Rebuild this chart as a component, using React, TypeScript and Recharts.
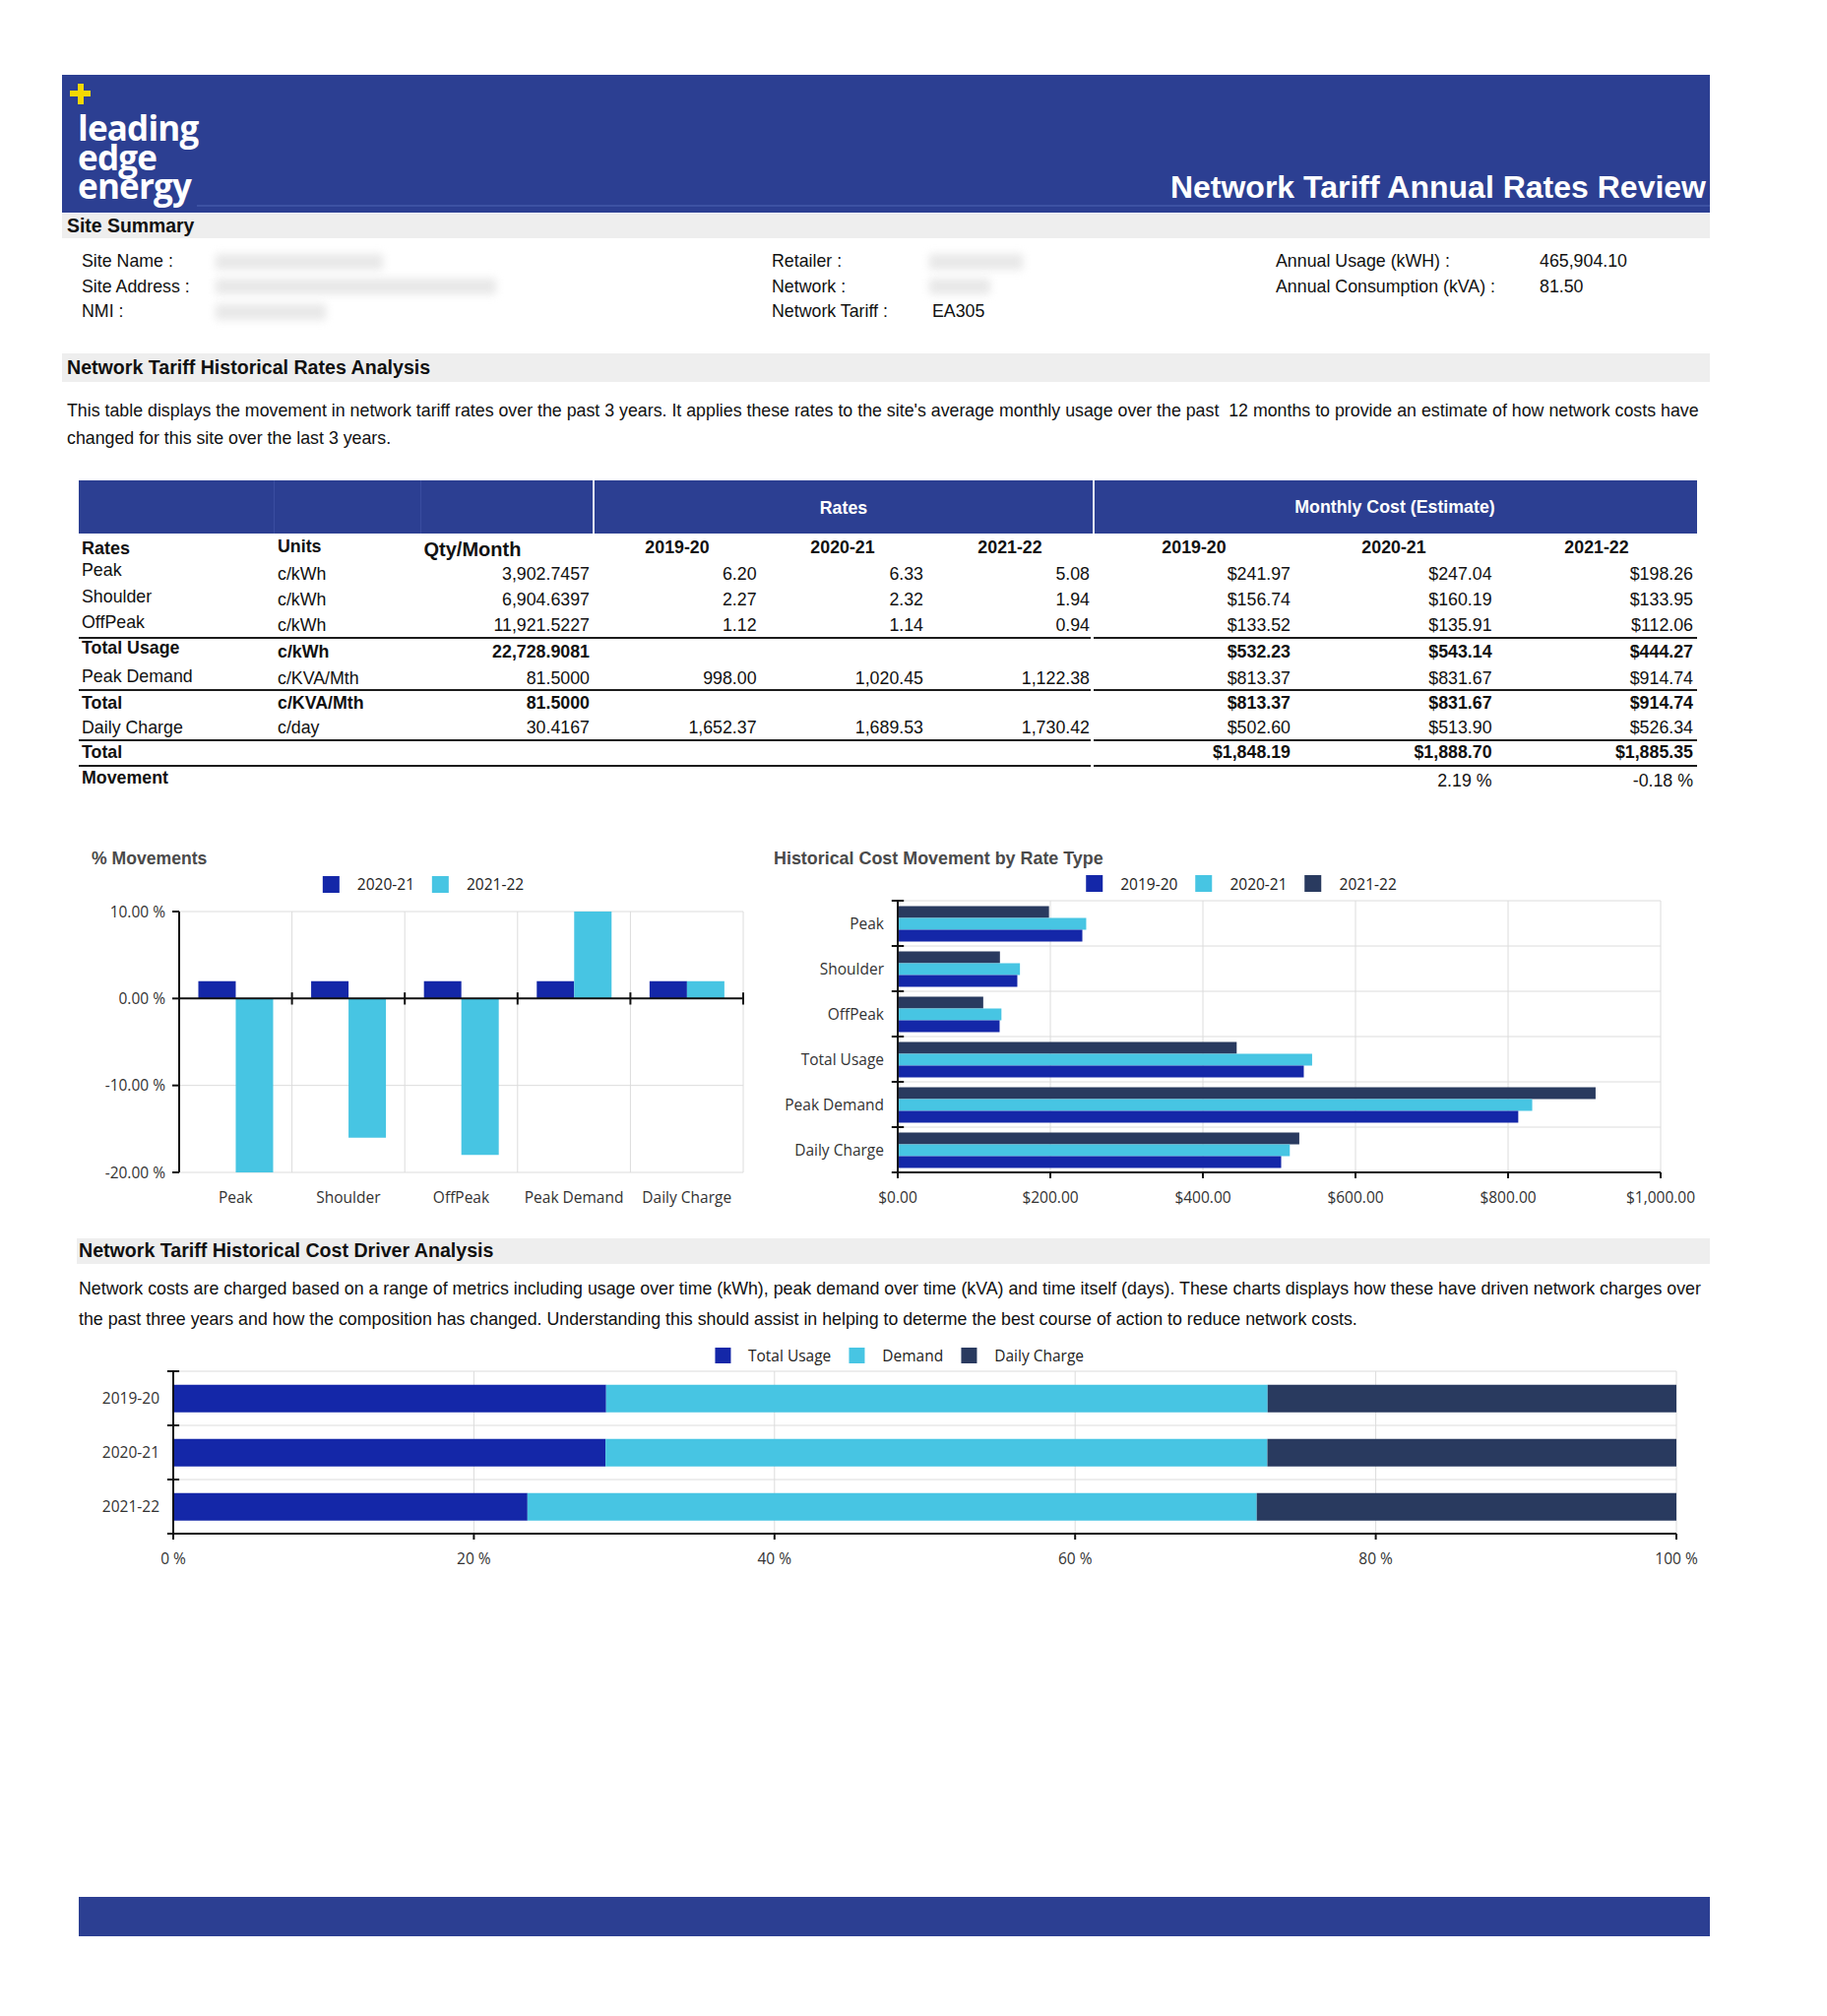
import React from 'react';
import { BarChart, Bar, XAxis, YAxis, CartesianGrid, ReferenceLine } from 'recharts';

const ARIAL = '"Liberation Sans", Arial, sans-serif';
const CF = '"Open Sans", sans-serif';
const HEAD_BLUE = '#2C3F92';
const C_BLUE = '#1427A8';
const C_CYAN = '#47C5E3';
const C_NAVY = '#293A5F';
const GRID = '#dcdcdc';
const AXIS = '#111';

// ---- % Movements ----
const movementCategories = ['Peak', 'Shoulder', 'OffPeak', 'Peak Demand', 'Daily Charge'];
const movement2021 = [2, 2, 2, 2, 2];
const movement2122 = [-20, -16, -18, 10, 2];
const movementTicks = [-20, -10, 0, 10];

// ---- Historical Cost Movement by Rate Type ----
const costCategories = ['Peak', 'Shoulder', 'OffPeak', 'Total Usage', 'Peak Demand', 'Daily Charge'];
const cost1920 = [241.97, 156.74, 133.52, 532.23, 813.37, 502.6];
const cost2021 = [247.04, 160.19, 135.91, 543.14, 831.67, 513.9];
const cost2122 = [198.26, 133.95, 112.06, 444.27, 914.74, 526.34];
const costTicks = [0, 200, 400, 600, 800, 1000];

// ---- Cost driver composition ----
const driverYears = ['2019-20', '2020-21', '2021-22'];
const driverUsage = [532.23, 543.14, 444.27];
const driverDemand = [813.37, 831.67, 914.74];
const driverDaily = [502.6, 513.9, 526.34];
const driverTicks = [0, 0.2, 0.4, 0.6, 0.8, 1];

// ---- Table ----
const rateYears = ['2019-20', '2020-21', '2021-22'];
const tableLabels = ['Peak', 'Shoulder', 'OffPeak', 'Total Usage', 'Peak Demand', 'Total', 'Daily Charge', 'Total', 'Movement'];
const tableUnits = ['c/kWh', 'c/kWh', 'c/kWh', 'c/kWh', 'c/KVA/Mth', 'c/KVA/Mth', 'c/day', '', ''];
const tableQty = ['3,902.7457', '6,904.6397', '11,921.5227', '22,728.9081', '81.5000', '81.5000', '30.4167', '', ''];
const tableRates = [
  ['6.20', '6.33', '5.08'],
  ['2.27', '2.32', '1.94'],
  ['1.12', '1.14', '0.94'],
  ['', '', ''],
  ['998.00', '1,020.45', '1,122.38'],
  ['', '', ''],
  ['1,652.37', '1,689.53', '1,730.42'],
  ['', '', ''],
  ['', '', ''],
];
const tableCosts = [
  ['$241.97', '$247.04', '$198.26'],
  ['$156.74', '$160.19', '$133.95'],
  ['$133.52', '$135.91', '$112.06'],
  ['$532.23', '$543.14', '$444.27'],
  ['$813.37', '$831.67', '$914.74'],
  ['$813.37', '$831.67', '$914.74'],
  ['$502.60', '$513.90', '$526.34'],
  ['$1,848.19', '$1,888.70', '$1,885.35'],
  ['', '2.19 %', '-0.18 %'],
];
const tableBold = [false, false, false, true, false, true, false, true, false];
const labelY = [580, 606.7, 632.3, 658.3, 687.3, 714.3, 739.3, 765, 791];
const valueY = [583.3, 609.3, 635.7, 662.7, 689.3, 714.3, 739.3, 765, 793.3];
const ruleY = [648.3, 701, 752.3, 777.7];

const movementData = movementCategories.map((name, i) => ({ name, v2021: movement2021[i], v2122: movement2122[i] }));
const costData = costCategories.map((name, i) => ({ name, c1920: cost1920[i], c2021: cost2021[i], c2122: cost2122[i] }));
const driverData = driverYears.map((name, i) => ({ name, usage: driverUsage[i], demand: driverDemand[i], daily: driverDaily[i] }));

const BODY = 17.8;

type TP = {
  x: number; y: number; children: React.ReactNode; align?: 'left' | 'right' | 'center';
  size?: number; bold?: boolean; color?: string; family?: string; w?: number;
};
const T = ({ x, y, children, align = 'left', size = BODY, bold = false, color = '#111', family = ARIAL, w = 700 }: TP) => {
  const left = align === 'left' ? x : align === 'right' ? x - w : x - w / 2;
  return (
    <div
      style={{
        position: 'absolute', left, top: y - size * 0.6, width: w, height: size * 1.2,
        lineHeight: `${size * 1.2}px`, fontSize: size, fontWeight: bold ? 700 : 400, color,
        fontFamily: family, textAlign: align, whiteSpace: 'pre',
      }}
    >
      {children}
    </div>
  );
};

const Box = ({ x, y, w, h, bg }: { x: number; y: number; w: number; h: number; bg: string }) => (
  <div style={{ position: 'absolute', left: x, top: y, width: w, height: h, background: bg }} />
);

const Blur = ({ x, y, w }: { x: number; y: number; w: number }) => (
  <div style={{ position: 'absolute', left: x, top: y - 8, width: w, height: 16, background: '#dedede', filter: 'blur(4px)', opacity: 0.7 }} />
);

const Legend = ({ cx, y, items, sq = 17 }: { cx: number; y: number; items: { label: string; color: string }[]; sq?: number }) => (
  <div
    style={{
      position: 'absolute', left: cx, top: y - 12, height: 24, transform: 'translateX(-50%)', display: 'flex',
      alignItems: 'center', fontFamily: CF, fontSize: 15.5, color: '#222', whiteSpace: 'nowrap',
    }}
  >
    {items.map((it, i) => (
      <div key={it.label} style={{ display: 'flex', alignItems: 'center', marginRight: i < items.length - 1 ? 18 : 0 }}>
        <div style={{ width: sq, height: sq, background: it.color, marginRight: 18 }} />
        <span>{it.label}</span>
      </div>
    ))}
  </div>
);

const tickStyle = { fill: '#333', fontSize: 15.5, fontFamily: CF };
const pct = (v: number) => `${v.toFixed(2)} %`;
const money = (v: number) => '$' + v.toLocaleString('en-US', { minimumFractionDigits: 2, maximumFractionDigits: 2 });
const share = (v: number) => `${Math.round(v * 100)} %`;

// category boundaries: start of every band, plus end of the last band
const boundaries = (cats: string[]) => [
  ...cats.map((c) => ({ c, pos: 'start' as const })),
  { c: cats[cats.length - 1], pos: 'end' as const },
];

const MovementChart = () => (
  <div style={{ position: 'absolute', left: 80, top: 915 }}>
    <BarChart width={700} height={320} data={movementData} margin={{ top: 11, right: 25, left: 12, bottom: 14 }} barCategoryGap="17%" barGap={0}>
      <CartesianGrid stroke={GRID} vertical={false} />
      <XAxis dataKey="name" axisLine={false} tickLine={false} tickMargin={14} height={30} tick={tickStyle} interval={0} />
      <YAxis
        domain={[-20, 10]} ticks={movementTicks} tickFormatter={pct} width={90} allowDataOverflow
        axisLine={{ stroke: AXIS, strokeWidth: 2 }} tickLine={{ stroke: AXIS, strokeWidth: 2 }} tickSize={7} tickMargin={7} tick={tickStyle}
      />
      {boundaries(movementCategories).slice(1).map((b) => (
        <ReferenceLine key={'g' + b.c + b.pos} x={b.c} position={b.pos} stroke={GRID} strokeWidth={1} />
      ))}
      <Bar dataKey="v2021" fill={C_BLUE} isAnimationActive={false} />
      <Bar dataKey="v2122" fill={C_CYAN} isAnimationActive={false} />
      <ReferenceLine y={0} stroke={AXIS} strokeWidth={2} />
      {boundaries(movementCategories).slice(1).map((b) => (
        <ReferenceLine
          key={'t' + b.c + b.pos} position={b.pos} segment={[{ x: b.c, y: -0.7 }, { x: b.c, y: 0.7 }]}
          stroke={AXIS} strokeWidth={2} ifOverflow="visible"
        />
      ))}
    </BarChart>
  </div>
);

const CostChart = () => (
  <div style={{ position: 'absolute', left: 780, top: 905 }}>
    <BarChart layout="vertical" width={960} height={330} data={costData} margin={{ top: 10, right: 53, left: 22, bottom: 14 }} barCategoryGap="12%" barGap={0}>
      <CartesianGrid stroke={GRID} horizontal={false} />
      <XAxis
        type="number" domain={[0, 1000]} ticks={costTicks} tickFormatter={money} height={30}
        axisLine={{ stroke: AXIS, strokeWidth: 2 }} tickLine={{ stroke: AXIS, strokeWidth: 2 }} tickSize={6} tickMargin={14} tick={tickStyle}
      />
      <YAxis type="category" dataKey="name" width={110} axisLine={{ stroke: AXIS, strokeWidth: 2 }} tickLine={false} tickMargin={8} tick={tickStyle} interval={0} />
      {boundaries(costCategories).map((b) => (
        <ReferenceLine key={'g' + b.c + b.pos} y={b.c} position={b.pos} stroke={GRID} strokeWidth={1} />
      ))}
      <Bar dataKey="c2122" fill={C_NAVY} isAnimationActive={false} />
      <Bar dataKey="c2021" fill={C_CYAN} isAnimationActive={false} />
      <Bar dataKey="c1920" fill={C_BLUE} isAnimationActive={false} />
      {boundaries(costCategories).map((b) => (
        <ReferenceLine
          key={'t' + b.c + b.pos} position={b.pos} segment={[{ x: -8, y: b.c }, { x: 8, y: b.c }]}
          stroke={AXIS} strokeWidth={2} ifOverflow="visible"
        />
      ))}
    </BarChart>
  </div>
);

const DriverChart = () => (
  <div style={{ position: 'absolute', left: 60, top: 1385 }}>
    <BarChart layout="vertical" width={1700} height={215} data={driverData} stackOffset="expand" margin={{ top: 8, right: 57, left: 16, bottom: 12 }} barCategoryGap="25%">
      <CartesianGrid stroke={GRID} horizontal={false} />
      <XAxis
        type="number" domain={[0, 1]} ticks={driverTicks} tickFormatter={share} height={30}
        axisLine={{ stroke: AXIS, strokeWidth: 2 }} tickLine={{ stroke: AXIS, strokeWidth: 2 }} tickSize={6} tickMargin={14} tick={tickStyle}
      />
      <YAxis type="category" dataKey="name" width={100} axisLine={{ stroke: AXIS, strokeWidth: 2 }} tickLine={false} tickMargin={8} tick={tickStyle} interval={0} />
      {boundaries(driverYears).map((b) => (
        <ReferenceLine key={'g' + b.c + b.pos} y={b.c} position={b.pos} stroke={GRID} strokeWidth={1} />
      ))}
      <Bar dataKey="usage" stackId="a" fill={C_BLUE} isAnimationActive={false} />
      <Bar dataKey="demand" stackId="a" fill={C_CYAN} isAnimationActive={false} />
      <Bar dataKey="daily" stackId="a" fill={C_NAVY} isAnimationActive={false} />
      {boundaries(driverYears).map((b) => (
        <ReferenceLine
          key={'t' + b.c + b.pos} position={b.pos} segment={[{ x: -0.004, y: b.c }, { x: 0.004, y: b.c }]}
          stroke={AXIS} strokeWidth={2} ifOverflow="visible"
        />
      ))}
    </BarChart>
  </div>
);

const rateRight = [768.6, 938, 1107];
const costRight = [1311, 1515.6, 1720];
const yearCenters = [688, 856, 1026, 1213, 1416, 1622];

export default function App() {
  return (
    <div style={{ position: 'absolute', left: 0, top: 0, width: 1856, height: 2048, background: '#fff', overflow: 'hidden', fontFamily: ARIAL }}>
      {/* Header */}
      <Box x={63} y={76} w={1674} h={140} bg={HEAD_BLUE} />
      <Box x={200} y={208} w={1537} h={2} bg="#3D52A3" />
      <Box x={71} y={92} w={21} h={6} bg="#F5D800" />
      <Box x={78.5} y={84.5} w={6} h={21} bg="#F5D800" />
      <div style={{ position: 'absolute', left: 79, top: 115, fontFamily: '"Open Sans", sans-serif', fontWeight: 700, fontSize: 35, lineHeight: '29.5px', color: '#fff', letterSpacing: -0.8, whiteSpace: 'pre-line' }}>
        {'leading\nedge\nenergy'}
      </div>
      <T x={1733} y={190} align="right" size={32} bold color="#fff" w={900}>Network Tariff Annual Rates Review</T>

      {/* Site summary */}
      <Box x={63} y={217} w={1674} h={25} bg="#EEEEEE" />
      <T x={68} y={229.5} size={19.4} bold>Site Summary</T>
      <T x={83} y={266}>Site Name :</T>
      <T x={83} y={292}>Site Address :</T>
      <T x={83} y={317}>NMI :</T>
      <Blur x={219} y={266} w={170} />
      <Blur x={219} y={291} w={285} />
      <Blur x={219} y={317} w={112} />
      <T x={784} y={266}>Retailer :</T>
      <T x={784} y={292}>Network :</T>
      <T x={784} y={317}>Network Tariff :</T>
      <Blur x={944} y={266} w={95} />
      <Blur x={944} y={291} w={62} />
      <T x={947} y={317}>EA305</T>
      <T x={1296} y={266}>Annual Usage (kWH) :</T>
      <T x={1296} y={292}>Annual Consumption (kVA) :</T>
      <T x={1564} y={266}>465,904.10</T>
      <T x={1564} y={292}>81.50</T>

      {/* Historical Rates Analysis */}
      <Box x={63} y={359} w={1674} h={29} bg="#EEEEEE" />
      <T x={68} y={374} size={19.6} bold>Network Tariff Historical Rates Analysis</T>
      <T x={68} y={418}>This table displays the movement in network tariff rates over the past 3 years. It applies these rates to the site's average monthly usage over the past  12 months to provide an estimate of how network costs have</T>
      <T x={68} y={446}>changed for this site over the last 3 years.</T>

      {/* Table header */}
      <Box x={80} y={488} w={1644} h={54} bg={HEAD_BLUE} />
      <Box x={278} y={488} w={1} h={54} bg="#3A4DA0" />
      <Box x={427} y={488} w={1} h={54} bg="#3A4DA0" />
      <Box x={601.5} y={488} w={2} h={54} bg="#e8ecf6" />
      <Box x={1109.5} y={488} w={2} h={54} bg="#e8ecf6" />
      <T x={857} y={517} align="center" bold color="#fff">Rates</T>
      <T x={1417} y={516} align="center" bold color="#fff">Monthly Cost (Estimate)</T>

      <T x={83} y={557.7} size={18} bold>Rates</T>
      <T x={282} y={555.7} bold>Units</T>
      <T x={430.5} y={557.7} size={20} bold>Qty/Month</T>
      {yearCenters.map((cx, i) => (
        <T key={i} x={cx} y={556.7} align="center" bold w={200}>{rateYears[i % 3]}</T>
      ))}

      {tableLabels.map((lab, r) => (
        <React.Fragment key={r}>
          <T x={83} y={labelY[r]} bold={tableBold[r] || r === 8}>{lab}</T>
          {tableUnits[r] && <T x={282} y={valueY[r]} bold={tableBold[r]}>{tableUnits[r]}</T>}
          {tableQty[r] && <T x={599} y={valueY[r]} align="right" bold={tableBold[r]} w={200}>{tableQty[r]}</T>}
          {tableRates[r].map((v, c) => v ? <T key={'r' + c} x={rateRight[c]} y={valueY[r]} align="right" w={200}>{v}</T> : null)}
          {tableCosts[r].map((v, c) => v ? <T key={'c' + c} x={costRight[c]} y={valueY[r]} align="right" bold={tableBold[r]} w={200}>{v}</T> : null)}
        </React.Fragment>
      ))}
      {ruleY.map((y) => (
        <React.Fragment key={y}>
          <Box x={80} y={y - 1} w={1028} h={2.2} bg="#1c1c1c" />
          <Box x={1111} y={y - 1} w={613} h={2.2} bg="#1c1c1c" />
        </React.Fragment>
      ))}

      {/* Charts row */}
      <T x={93} y={872.7} size={17.6} bold color="#4a4a4a">% Movements</T>
      <Legend cx={430} y={898} items={[{ label: '2020-21', color: C_BLUE }, { label: '2021-22', color: C_CYAN }]} />
      <MovementChart />

      <T x={786} y={872.7} size={17.9} bold color="#4a4a4a">Historical Cost Movement by Rate Type</T>
      <Legend cx={1261} y={897.5} items={[{ label: '2019-20', color: C_BLUE }, { label: '2020-21', color: C_CYAN }, { label: '2021-22', color: C_NAVY }]} />
      <CostChart />

      {/* Cost Driver Analysis */}
      <Box x={78} y={1258} w={1659} h={26} bg="#EEEEEE" />
      <T x={80} y={1271} size={19.6} bold>Network Tariff Historical Cost Driver Analysis</T>
      <T x={80} y={1310}>Network costs are charged based on a range of metrics including usage over time (kWh), peak demand over time (kVA) and time itself (days). These charts displays how these have driven network charges over</T>
      <T x={80} y={1341}>the past three years and how the composition has changed. Understanding this should assist in helping to determe the best course of action to reduce network costs.</T>
      <Legend cx={913.5} y={1376.5} sq={16} items={[{ label: 'Total Usage', color: C_BLUE }, { label: 'Demand', color: C_CYAN }, { label: 'Daily Charge', color: C_NAVY }]} />
      <DriverChart />

      {/* Footer */}
      <Box x={80} y={1927} w={1657} h={40} bg={HEAD_BLUE} />
    </div>
  );
}
